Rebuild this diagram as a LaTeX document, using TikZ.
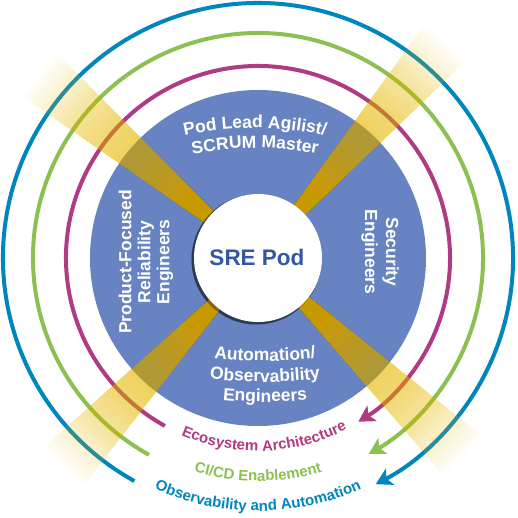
\documentclass[tikz,border=0pt]{standalone}
\usepackage{fontspec}
\setmainfont{Liberation Sans}
\usetikzlibrary{arrows.meta,decorations.text}
\definecolor{discblue}{RGB}{103,131,193}
\definecolor{ringmag}{RGB}{176,58,131}
\definecolor{ringgreen}{RGB}{140,192,82}
\definecolor{ringblue}{RGB}{0,134,190}
\definecolor{podblue}{RGB}{52,87,160}
\definecolor{beamgold}{RGB}{230,184,0}
\newcommand\inlab{\fontsize{17.5}{19}\selectfont\bfseries}
\newcommand\ringlab{\fontsize{15}{18}\selectfont\bfseries}
\begin{document}
\begin{tikzpicture}[x=1pt,y=1pt,
  ring/.style={line width=4pt, -{Stealth[length=16pt,width=18pt,inset=4pt]}},
  inner/.style={text=white, font=\inlab, align=center}]
\useasboundingbox (-258,-259) rectangle (260,258);
\fill[discblue] (0,0) circle (168);
\draw[ring, ringmag]   (241:192) arc[start angle=241, end angle=-58.5, radius=192];
\draw[ring, ringgreen] (241:225) arc[start angle=241, end angle=-60.5, radius=225];
\draw[ring, ringblue]  (241:255) arc[start angle=241, end angle=-62.5, radius=255];
% light beams, stacked thin layers fade outwards
\foreach \a in {140,49,227,-44}
  \begin{scope}[rotate=\a]
    \foreach \k in {1,...,125} {
      \pgfmathsetmacro\op{1-0.97^\k}
      \pgfmathsetmacro\rr{\op>0.8 ? 75+(1-\op)/0.2*35 : (\op>0.65 ? 110+(0.8-\op)/0.15*50 : (\op>0.55 ? 160+(0.65-\op)/0.1*30 : (\op>0.4 ? 190+(0.55-\op)/0.15*35 : (\op>0.2 ? 225+(0.4-\op)/0.2*30 : 255+(0.2-\op)/0.2*35))))}
      \pgfmathsetmacro\ww{7+21*(\rr-60)/230}
      \fill[beamgold, opacity=0.03] (60,-7) -- (\rr,-\ww) -- (\rr,\ww) -- (60,7) -- cycle;
    }
  \end{scope}
\fill[black, opacity=0.18] (-1.5,-1.5) circle (65);
\fill[white] (0,0) circle (64);
\node[text=podblue, font=\fontsize{22.5}{27}\selectfont\bfseries] (pod) at (-1,1) {SRE Pod};
\node[inner, rotate=90] (product) at (-112,-4) {Product-Focused\\Reliability\\Engineers};
\node[inner, rotate=-90, font=\fontsize{17.5}{21}\selectfont\bfseries] (security) at (122,6) {Security\\Engineers};
% arched labels inside the disc
\path[decorate, decoration={text along path, text align=center, text color=white, text={|\inlab|Pod Lead Agilist/}}]
  (-3,-190) ++(120:320) arc[start angle=120, end angle=60, radius=320];
\path[decorate, decoration={text along path, text align=center, text color=white, text={|\inlab|SCRUM Master}}]
  (-3,-210) ++(120:320) arc[start angle=120, end angle=60, radius=320];
\path[decorate, decoration={text along path, text align=center, text color=white, text={|\inlab|Automation/}}]
  (7,347) ++(250:450) arc[start angle=250, end angle=290, radius=450];
\path[decorate, decoration={text along path, text align=center, text color=white, text={|\inlab|Observability}}]
  (7,326) ++(250:450) arc[start angle=250, end angle=290, radius=450];
\path[decorate, decoration={text along path, text align=center, text color=white, text={|\inlab|Engineers}}]
  (7,306) ++(250:450) arc[start angle=250, end angle=290, radius=450];
% ring labels
\path[decorate, decoration={text along path, text align=center, text color=ringmag, text={|\ringlab|Ecosystem Architecture}}]
  (227:193) arc[start angle=227, end angle=317, radius=193];
\path[decorate, decoration={text along path, text align=center, text color=ringgreen, text={|\ringlab|CI/CD Enablement}}]
  (225:223) arc[start angle=225, end angle=315, radius=223];
\path[decorate, decoration={text along path, text align=center, text color=ringblue, text={|\ringlab|Observability and Automation}}]
  (225:253) arc[start angle=225, end angle=315, radius=253];
\end{tikzpicture}
\end{document}
